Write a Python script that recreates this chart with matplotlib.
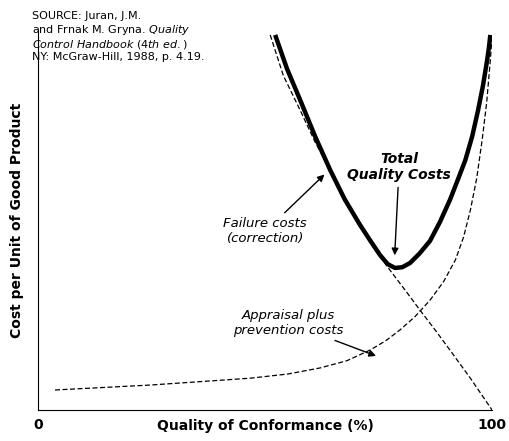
import matplotlib.pyplot as plt

# Curve values (quality % vs relative cost)
failure_x = [51.1, 54.0, 57.7, 61.0, 64.3, 67.5, 70.9, 74.0, 77.5, 81.0, 84.1, 87.5, 90.7, 95.2, 100]
failure_y = [98.7, 88.0, 78.9, 70.5, 63.2, 55.5, 48.7, 42.5, 36.8, 31.3, 26.3, 21.0, 15.8, 8.4, 0]

appraisal_x = [3.7, 24.7, 46.7, 55.0, 62.1, 68.0, 73.1, 76.5, 79.7, 83.0, 86.3, 89.3, 91.9,
               93.7, 95.2, 96.6, 97.8, 98.8, 99.6, 100]
appraisal_y = [5.3, 6.6, 8.4, 9.5, 11.1, 13.0, 15.8, 18.2, 21.1, 24.6, 28.9, 33.8, 39.5,
               45.5, 52.6, 61.0, 71.1, 81.0, 92.1, 98.7]

total_x = [52.2, 54.8, 57.7, 61.0, 64.3, 67.5, 70.9, 73.2, 75.3, 77.0, 78.6, 80.2, 81.9,
           84.0, 86.3, 88.5, 90.7, 92.5, 94.1, 95.6, 96.9, 98.0, 98.9, 99.3, 99.6]
total_y = [98.7, 89.8, 81.6, 72.0, 63.2, 55.5, 48.7, 44.5, 40.8, 38.4, 37.4, 37.6, 38.7,
           41.2, 44.5, 49.5, 55.3, 60.8, 65.8, 72.0, 78.9, 85.5, 92.1, 95.5, 98.7]

fig = plt.figure(figsize=(5.10, 4.41), dpi=100)
ax = fig.add_axes([0.075, 0.07, 0.89, 0.862])

ax.plot(failure_x, failure_y, color='black', linestyle='--', linewidth=0.9, dashes=(4, 2))
ax.plot(appraisal_x, appraisal_y, color='black', linestyle='--', linewidth=0.9, dashes=(4, 2))
ax.plot(total_x, total_y, color='black', linewidth=3.2, solid_capstyle='butt',
        solid_joinstyle='round')

ax.set_xlim(0, 100)
ax.set_ylim(0, 100)
ax.spines['top'].set_visible(False)
ax.spines['right'].set_visible(False)
ax.set_xticks([0, 100])
ax.set_xticklabels(['0', '100'], fontweight='bold', fontsize=10)
ax.set_yticks([])
ax.tick_params(axis='x', length=0, pad=6)
ax.set_xlabel('Quality of Conformance (%)', fontweight='bold', fontsize=10, labelpad=-10)
ax.set_ylabel('Cost per Unit of Good Product', fontweight='bold', fontsize=10, labelpad=10)

arrow = dict(arrowstyle='-|>', color='black', lw=1.0, mutation_scale=10)
ax.annotate('Failure costs\n(correction)', xy=(63.5, 62.5), xytext=(50, 47),
            ha='center', va='center', fontstyle='italic', fontsize=9.5,
            arrowprops=arrow)
ax.annotate('Total\nQuality Costs', xy=(78.5, 40), xytext=(79.5, 64),
            ha='center', va='center', fontstyle='italic', fontweight='bold',
            fontsize=10, arrowprops=arrow)
ax.annotate('Appraisal plus\nprevention costs', xy=(75, 14), xytext=(55, 23),
            ha='center', va='center', fontstyle='italic', fontsize=9.5,
            arrowprops=arrow)

fig.text(0.063, 0.975, 'SOURCE: Juran, J.M.\nand Frnak M. Gryna. $\\it{Quality}$\n'
         '$\\it{Control\\ Handbook\\ (4th\\ ed.)}$\nNY: McGraw-Hill, 1988, p. 4.19.',
         ha='left', va='top', fontsize=8, linespacing=1.15)

fig.savefig('out.png', dpi=100)
